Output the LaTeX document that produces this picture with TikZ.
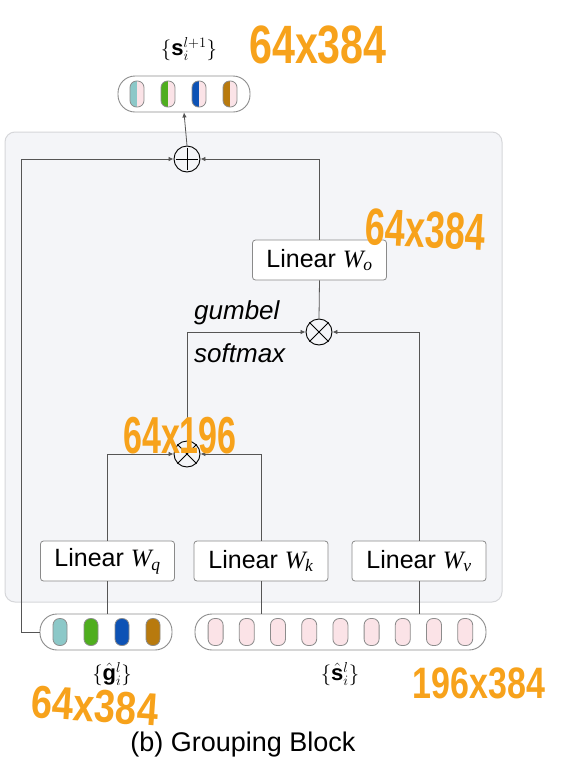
\documentclass[tikz,border=0pt]{standalone}
\usepackage{fontspec}
\setmainfont{Liberation Sans}
\newfontfamily\tms{Liberation Serif}
\usetikzlibrary{arrows.meta}
\definecolor{blockfill}{HTML}{F4F5F8}
\definecolor{blockline}{HTML}{D6D7DA}
\definecolor{connline}{HTML}{555555}
\definecolor{boxline}{HTML}{8A8A8A}
\definecolor{capline}{HTML}{8C8C8C}
\definecolor{cteal}{HTML}{8CC8C8}
\definecolor{cgreen}{HTML}{4FAE1E}
\definecolor{cblue}{HTML}{0D52B5}
\definecolor{cbrown}{HTML}{B87A0E}
\definecolor{cpink}{HTML}{FBE3E7}
\definecolor{anno}{HTML}{F7A21B}
\newcommand{\lw}[1]{{\tms\itshape W\kern-0.5pt\textsubscript{#1}}}
\begin{document}
\begin{tikzpicture}[x=1pt,y=-1pt,
  linbox/.style={draw=boxline, fill=white, rounded corners=3pt, minimum width=134pt,
    minimum height=40pt, inner sep=0pt, line width=0.8pt, font=\fontsize{25}{28}\selectfont},
  opnode/.style={draw=black, circle, minimum size=26pt, inner sep=0pt, line width=0.9pt, fill=blockfill},
  pill/.style={draw=capline, rounded corners=17pt, minimum height=36pt, inner sep=0pt, line width=0.9pt},
  conn/.style={draw=connline, line width=0.8pt},
  arr/.style={conn, -{Latex[length=5pt,width=4.5pt]}},
  capsule/.style={draw=capline, rounded corners=6.5pt, line width=0.8pt},
  annotext/.style={text=anno, inner sep=0pt, font=\bfseries\fontsize{40}{40}\selectfont},
  lbl/.style={inner sep=0pt, font=\fontsize{22}{24}\selectfont},
  itl/.style={inner sep=0pt, anchor=west, font=\itshape\fontsize{26}{28}\selectfont}
]
\useasboundingbox (0,0) rectangle (568,764);
\fill[white] (0,0) rectangle (568,764);
% grey block
\draw[draw=blockline, fill=blockfill, line width=1pt, rounded corners=10pt] (5,132) rectangle (502,602);

% pills
\node[pill, minimum width=132pt] (tp) at (184,94) {};
\node[pill, minimum width=132pt] (gp) at (106,632) {};
\node[pill, minimum width=291pt] (sp) at (340.5,632) {};

% capsules
\foreach \x/\c in {137/cteal,168/cgreen,199/cblue,230/cbrown}{
  \begin{scope}
    \clip[rounded corners=6.5pt] (\x-7,81) rectangle (\x+7,107);
    \fill[\c] (\x-7,81) rectangle (\x,107);
    \fill[cpink] (\x,81) rectangle (\x+7,107);
  \end{scope}
  \draw[capsule] (\x-7,81) rectangle (\x+7,107);
}
\foreach \x/\c in {60/cteal,91/cgreen,122/cblue,153/cbrown}{
  \draw[capsule, fill=\c] (\x-7,618.5) rectangle (\x+7,645.5);
}
\foreach \i in {0,...,8}{
  \draw[capsule, fill=cpink] ({215.6+31.2*\i-7.5},618.5) rectangle ++(15,27);
}

% linear boxes
\node[linbox] (wq) at (107.5,561) {Linear \lw{q}};
\node[linbox] (wk) at (261,561) {Linear \lw{k}};
\node[linbox] (wv) at (419,561) {Linear \lw{v}};
\node[linbox] (wo) at (319.5,260) {Linear \lw{o}};

% operators
\node[opnode] (plus) at (187,159) {};
\draw[line width=0.9pt] ([yshift=-2pt]plus.north) -- ([yshift=2pt]plus.south)
  ([xshift=2pt]plus.west) -- ([xshift=-2pt]plus.east);
\node[opnode] (ot2) at (319,332) {};
\draw[line width=0.9pt] (ot2.north west) -- (ot2.south east) (ot2.north east) -- (ot2.south west);
\node[opnode] (ot1) at (187,454) {};
\draw[line width=0.9pt] (ot1.north west) -- (ot1.south east) (ot1.north east) -- (ot1.south west);

% connectors
\draw[conn] (wq.south) -- (wq.south |- gp.north);
\draw[conn] (wk.south) -- (wk.south |- sp.north);
\draw[conn] (wv.south) -- (wv.south |- sp.north);
\draw[arr] (wq.north) |- (ot1.west);
\draw[arr] (wk.north) |- (ot1.east);
\draw[arr] (ot1.north) |- (ot2.west);
\draw[arr] (wv.north) |- (ot2.east);
\draw[conn] (wo.south) -- (ot2.north);
\draw[arr] (wo.north) |- (plus.east);
\coordinate (lc) at (21,632);
\draw[arr] (gp.west) -- (lc) |- (plus.west);
\draw[arr] (plus.north) -- (tp.south);

% texts
\node[itl] (gum) at (194,313) {gumbel};
\node[itl] (soft) at (194,353) {softmax};
\node[lbl] (lt) at (189,49) {$\{\mathbf{s}_i^{l+1}\}$};
\node[lbl] (lg) at (112,674) {$\{\hat{\mathbf{g}}_i^{l}\}$};
\node[lbl] (ls) at (340,674) {$\{\hat{\mathbf{s}}_i^{l}\}$};
\node[inner sep=0pt, font=\fontsize{27}{30}\selectfont] (captn) at (243,745) {(b) Grouping Block};

% annotations
\node[annotext] (a1) at (318,45) {\scalebox{1.03}[1.35]{64x384}};
\node[annotext, rotate=-3] (a2) at (425,230) {\scalebox{0.9}[1.3]{64x384}};
\node[annotext] (a3) at (180,436) {\scalebox{0.85}[1.3]{64x196}};
\node[annotext] (a4) at (479,683) {\scalebox{0.85}[1.1]{196x384}};
\node[annotext, rotate=-4] (a5) at (95,706) {\scalebox{0.95}[1.15]{64x384}};
\end{tikzpicture}
\end{document}
